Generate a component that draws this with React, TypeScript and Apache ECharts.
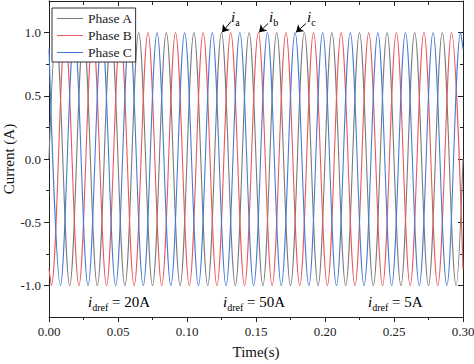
import React, { useEffect, useRef } from 'react';
import * as echarts from 'echarts';

// Extremes (and end points) of each phase current: [time (s), current (A)]
const phaseA: [number, number][] = [
  [0, 0], [0.005, 1], [0.015, -1], [0.025, 1], [0.035, -1], [0.045, 1], [0.055, -1],
  [0.065, 1], [0.075, -1], [0.085, 1], [0.095, -1], [0.105, 1], [0.115, -1], [0.125, 1],
  [0.135, -1], [0.145, 1], [0.155, -1], [0.165, 1], [0.175, -1], [0.185, 1], [0.195, -1],
  [0.205, 1], [0.215, -1], [0.225, 1], [0.235, -1], [0.245, 1], [0.255, -1], [0.265, 1],
  [0.275, -1], [0.285, 1], [0.295, -1], [0.3, 0],
];
const phaseB: [number, number][] = [
  [0, -0.87], [0.0017, -1], [0.0117, 1], [0.0217, -1], [0.0317, 1], [0.0417, -1], [0.0517, 1],
  [0.0617, -1], [0.0717, 1], [0.0817, -1], [0.0917, 1], [0.1017, -1], [0.1117, 1], [0.1217, -1],
  [0.1317, 1], [0.1417, -1], [0.1517, 1], [0.1617, -1], [0.1717, 1], [0.1817, -1], [0.1917, 1],
  [0.2017, -1], [0.2117, 1], [0.2217, -1], [0.2317, 1], [0.2417, -1], [0.2517, 1], [0.2617, -1],
  [0.2717, 1], [0.2817, -1], [0.2917, 1], [0.3, -0.87],
];
const phaseC: [number, number][] = [
  [0, 0.87], [0.0083, -1], [0.0183, 1], [0.0283, -1], [0.0383, 1], [0.0483, -1], [0.0583, 1],
  [0.0683, -1], [0.0783, 1], [0.0883, -1], [0.0983, 1], [0.1083, -1], [0.1183, 1], [0.1283, -1],
  [0.1383, 1], [0.1483, -1], [0.1583, 1], [0.1683, -1], [0.1783, 1], [0.1883, -1], [0.1983, 1],
  [0.2083, -1], [0.2183, 1], [0.2283, -1], [0.2383, 1], [0.2483, -1], [0.2583, 1], [0.2683, -1],
  [0.2783, 1], [0.2883, -1], [0.2983, 1], [0.3, 0.87],
];

const seriesNames = ['Phase A', 'Phase B', 'Phase C'];
const seriesColors = ['#7a7a7a', '#e8585c', '#4a7bd4'];
const yMajor = [-1, -0.5, 0, 0.5, 1];
const yMinor = [-0.75, -0.25, 0.25, 0.75];
// arrows pointing at the labelled peaks: [tailTime, tailValue, tipTime, tipValue]
const arrows: [number, number, number, number][] = [
  [0.1319, 1.088, 0.1254, 1.002],
  [0.1587, 1.072, 0.1522, 1.002],
  [0.1862, 1.072, 0.1790, 1.002],
];
const peakLabels = ['a', 'b', 'c'];
const refLabels = ['20A', '50A', '5A'];

const FONT = 'Liberation Serif';

export default function App() {
  const ref = useRef<HTMLDivElement>(null);
  useEffect(() => {
    const chart = echarts.init(ref.current!, null, { renderer: 'svg', width: 474, height: 364 });
    const axisLine = { show: true, onZero: false, lineStyle: { color: '#222', width: 1 } };
    const yBase = { type: 'value', min: -1.25, max: 1.25, splitLine: { show: false } };
    const rich = {
      i: { fontFamily: FONT, fontStyle: 'italic', fontSize: 15, lineHeight: 20, color: '#111' },
      s: { fontFamily: FONT, fontSize: 10, lineHeight: 10, verticalAlign: 'bottom', color: '#111' },
      t: { fontFamily: FONT, fontSize: 15, lineHeight: 20, color: '#111' },
    };
    const peakX = [231, 269, 307];
    const refX = [88, 223, 368];
    const graphics: any[] = [];
    peakLabels.forEach((p, k) => {
      graphics.push({
        type: 'text', x: peakX[k], y: 7, z: 100,
        style: { text: `{i|i}{s|${p}}`, rich, align: 'left', verticalAlign: 'top' },
      });
    });
    refLabels.forEach((r, k) => {
      graphics.push({
        type: 'text', x: refX[k], y: 292, z: 100,
        style: { text: `{i|i}{s|dref}{t| = ${r}}`, rich, align: 'left', verticalAlign: 'top' },
      });
    });
    const data = [phaseA, phaseB, phaseC];
    chart.setOption({
      animation: false,
      backgroundColor: '#fff',
      grid: { left: 49, right: 11, top: 1, bottom: 47, containLabel: false, outerBoundsMode: 'none' },
      legend: {
        data: seriesNames.map((n) => ({ name: n, icon: 'rect' })),
        left: 52, top: 8, orient: 'vertical',
        padding: [3, 3, 2, 5],
        itemWidth: 26, itemHeight: 1, itemGap: 2,
        borderColor: '#333', borderWidth: 1, backgroundColor: '#fff', borderRadius: 0,
        textStyle: { fontFamily: FONT, fontSize: 13.5, color: '#222', lineHeight: 15 },
      },
      xAxis: [
        {
          type: 'value', position: 'bottom', min: 0, max: 0.3, interval: 0.05,
          axisLine, splitLine: { show: false },
          axisTick: { show: true, inside: false, length: 5, lineStyle: { color: '#222' } },
          minorTick: { show: true, splitNumber: 2, length: 3, lineStyle: { color: '#222' } },
          minorSplitLine: { show: false },
          axisLabel: { fontFamily: FONT, fontSize: 13, color: '#222', margin: 8, formatter: (v: number) => v.toFixed(2) },
          name: 'Time(s)', nameLocation: 'middle', nameGap: 27, nameMoveOverlap: false,
          nameTextStyle: { fontFamily: FONT, fontSize: 15, color: '#111' },
        },
        {
          type: 'value', position: 'top', min: 0, max: 0.3, interval: 0.05,
          axisLine, splitLine: { show: false },
          axisTick: { show: true, inside: true, length: 5, lineStyle: { color: '#222' } },
          minorTick: { show: true, splitNumber: 2, length: 4, lineStyle: { color: '#222' } },
          axisLabel: { show: false },
        },
      ],
      yAxis: [
        {
          ...yBase, position: 'left', axisLine,
          axisTick: { show: true, inside: false, length: 5, customValues: yMajor, lineStyle: { color: '#222' } },
          axisLabel: { fontFamily: FONT, fontSize: 13, color: '#222', margin: 8, customValues: yMajor, formatter: (v: number) => v.toFixed(1) },
          name: 'Current (A)', nameLocation: 'middle', nameGap: 33, nameRotate: 90, nameMoveOverlap: false,
          nameTextStyle: { fontFamily: FONT, fontSize: 15, color: '#111' },
        },
        {
          ...yBase, position: 'left', offset: 0, axisLine: { show: false, onZero: false },
          axisTick: { show: true, inside: false, length: 3, customValues: yMinor, lineStyle: { color: '#222' } },
          axisLabel: { show: false },
        },
        {
          ...yBase, position: 'right', offset: 0, axisLine,
          axisTick: { show: true, inside: true, length: 5, customValues: yMajor, lineStyle: { color: '#222' } },
          axisLabel: { show: false },
        },
        {
          ...yBase, position: 'right', offset: 0, axisLine: { show: false, onZero: false },
          axisTick: { show: true, inside: true, length: 3, customValues: yMinor, lineStyle: { color: '#222' } },
          axisLabel: { show: false },
        },
      ],
      series: seriesNames.map((name, k) => ({
        name, type: 'line', data: data[k], xAxisIndex: 0, yAxisIndex: 0,
        smooth: 0.36, symbol: 'none', showSymbol: false,
        lineStyle: { color: seriesColors[k], width: 1.1 }, itemStyle: { color: seriesColors[k] },
        ...(k === 0
          ? {
              markLine: {
                silent: true, symbol: ['none', 'arrow'], symbolSize: 7,
                label: { show: false },
                lineStyle: { color: '#000', width: 1, type: 'solid' },
                data: arrows.map((a) => [{ coord: [a[0], a[1]] }, { coord: [a[2], a[3]] }]),
              },
            }
          : {}),
      })),
      graphic: graphics,
    });
    return () => chart.dispose();
  }, []);
  return <div ref={ref} style={{ position: 'absolute', left: 0, top: 0, width: 474, height: 364 }} />;
}
